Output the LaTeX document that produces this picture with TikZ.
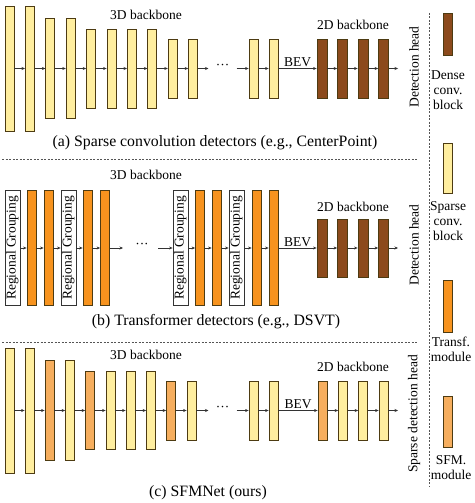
\documentclass[tikz,border=0pt]{standalone}
\usepackage{fontspec}
\setmainfont{Liberation Serif}
\usepackage{graphicx}
\usetikzlibrary{arrows.meta}
\definecolor{ylw}{HTML}{FFEE9F}
\definecolor{brn}{HTML}{8C4A1C}
\definecolor{org}{HTML}{F7931E}
\definecolor{sfmc}{HTML}{F6AE5E}
\definecolor{bord}{HTML}{4D3B12}
\definecolor{arr}{HTML}{333333}
\definecolor{sepc}{HTML}{555555}
\newcommand\lblfont{\fontsize{13.5}{15}\selectfont}
\newcommand\capfont{\fontsize{15.8}{18}\selectfont}
\begin{document}
\begin{tikzpicture}[x=1pt,y=-1pt,
  blk/.style={draw=bord, line width=0.8pt, inner sep=0pt, minimum width=9pt},
  sc/.style={blk, fill=ylw},
  dc/.style={blk, fill=brn, minimum width=10pt},
  tf/.style={blk, fill=org},
  sfm/.style={blk, fill=sfmc},
  rg/.style={draw=arr, line width=0.8pt, fill=white, inner sep=0pt, minimum width=15pt, minimum height=115pt, font=\lblfont},
  conn/.style={-{Stealth[length=3.5pt,width=3pt]}, line width=0.5pt, draw=arr},
  lbl/.style={font=\lblfont, inner sep=0pt},
  lgt/.style={font=\lblfont, inner sep=0pt, align=center},
  captext/.style={font=\capfont, inner sep=0pt},
  dotsnode/.style={font=\lblfont, inner ysep=0pt, inner xsep=9pt},
  sepline/.style={draw=sepc, line width=0.6pt, dash pattern=on 2pt off 1.5pt}]
\useasboundingbox (0,0) rectangle (474,503);

% ---------------- Row (a)
\foreach \i/\x/\h in {1/9.5/125,2/29.9/125,3/50.3/100,4/70.7/100,5/91.1/79,6/111.5/79,7/131.9/79,8/152.3/79,9/172.7/59,10/193.1/59,11/253.5/59,12/273.5/59}
  \node[sc, minimum height=\h pt] (a\i) at (\x,68.5) {};
\foreach \i/\x in {1/322,2/342.5,3/363,4/383.5}
  \node[dc, minimum height=59pt] (ad\i) at (\x,68.5) {};
\node[dotsnode] (adots) at (222.5,66.5) {\textperiodcentered\textperiodcentered\textperiodcentered};
\coordinate (adots-l) at (208.5,68.5);
\coordinate (adots-r) at (236.5,68.5);
\foreach \i [evaluate=\i as \j using int(\i+1)] in {1,...,9}
  \draw[conn] (a\i.east) -- (a\j.west);
\draw[conn] (a11.east) -- (a12.west);
\draw[conn] (a10.east) -- (adots-l);
\draw[conn] (adots-r) -- (a11.west);
\draw[conn] (a12.east) -- node[lbl, above=1.5pt] (abev) {BEV} (ad1.west);
\foreach \i [evaluate=\i as \j using int(\i+1)] in {1,2,3}
  \draw[conn] (ad\i.east) -- (ad\j.west);
\coordinate (aout) at (398,68.5);
\draw[conn] (ad4.east) -- (aout);
\node[lbl] (a3d) at (146,15) {3D backbone};
\node[lbl] (a2d) at (353,25) {2D backbone};
\node[lbl, rotate=90] (ahead) at (414,67) {Detection head};
\node[captext] (acap) at (215,143) {(a) Sparse convolution detectors (e.g., CenterPoint)};
\draw[sepline] (2,159) -- (418,159);

% ---------------- Row (b)
\foreach \i/\x in {1/12.5,2/68.5,3/180.5,4/236.5}
  \node[rg] (r\i) at (\x,248) {\rotatebox{90}{Regional Grouping}};
\foreach \i/\x in {1/31.5,2/48.5,3/87.5,4/105,5/200,6/216.5,7/256.5,8/273.5}
  \node[tf, minimum height=115pt] (o\i) at (\x,248) {};
\foreach \i/\x in {1/322,2/342.5,3/363,4/383.5}
  \node[dc, minimum height=58pt] (bd\i) at (\x,248) {};
\node[dotsnode] (bdots) at (142,246) {\textperiodcentered\textperiodcentered\textperiodcentered};
\coordinate (bdots-l) at (123,248);
\coordinate (bdots-r) at (158,248);
\draw[conn] (r1.east) -- (o1.west);
\draw[conn] (o1.east) -- (o2.west);
\draw[conn] (o2.east) -- (r2.west);
\draw[conn] (r2.east) -- (o3.west);
\draw[conn] (o3.east) -- (o4.west);
\draw[conn] (o4.east) -- (bdots-l);
\draw[conn] (bdots-r) -- (r3.west);
\draw[conn] (r3.east) -- (o5.west);
\draw[conn] (o5.east) -- (o6.west);
\draw[conn] (o6.east) -- (r4.west);
\draw[conn] (r4.east) -- (o7.west);
\draw[conn] (o7.east) -- (o8.west);
\draw[conn] (o8.east) -- node[lbl, above=1.5pt] (bbev) {BEV} (bd1.west);
\foreach \i [evaluate=\i as \j using int(\i+1)] in {1,2,3}
  \draw[conn] (bd\i.east) -- (bd\j.west);
\coordinate (bout) at (398,248);
\draw[conn] (bd4.east) -- (bout);
\node[lbl] (b3d) at (146,175) {3D backbone};
\node[lbl] (b2d) at (353,207) {2D backbone};
\node[lbl, rotate=90] (bhead) at (414,245) {Detection head};
\node[captext] (bcap) at (216,322) {(b) Transformer detectors (e.g., DSVT)};
\draw[sepline] (2,342) -- (418,342);

% ---------------- Row (c)
\foreach \i/\x/\h/\s in {1/9.5/125/sc,2/29.5/125/sc,3/49.5/100/sfm,4/70/100/sc,5/90/78/sfm,6/110.5/78/sc,7/130.5/78/sc,8/151/78/sc,9/171/59/sfm,10/191.5/59/sc,11/253.5/59/sc,12/273.5/59/sc}
  \node[\s, minimum height=\h pt] (c\i) at (\x,410.5) {};
\foreach \i/\x/\s in {1/322.5/sfm,2/343/sc,3/363/sc,4/383.5/sc}
  \node[\s, minimum height=59pt] (cd\i) at (\x,410.5) {};
\node[dotsnode] (cdots) at (222.5,408.5) {\textperiodcentered\textperiodcentered\textperiodcentered};
\coordinate (cdots-l) at (208.5,410.5);
\coordinate (cdots-r) at (236.5,410.5);
\foreach \i [evaluate=\i as \j using int(\i+1)] in {1,...,9}
  \draw[conn] (c\i.east) -- (c\j.west);
\draw[conn] (c11.east) -- (c12.west);
\draw[conn] (c10.east) -- (cdots-l);
\draw[conn] (cdots-r) -- (c11.west);
\draw[conn] (c12.east) -- node[lbl, above=1.5pt] (cbev) {BEV} (cd1.west);
\foreach \i [evaluate=\i as \j using int(\i+1)] in {1,2,3}
  \draw[conn] (cd\i.east) -- (cd\j.west);
\coordinate (cout) at (398,410.5);
\draw[conn] (cd4.east) -- (cout);
\node[lbl] (c3d) at (146,355) {3D backbone};
\node[lbl] (c2d) at (353,367) {2D backbone};
\node[lbl, rotate=90] (chead) at (414,414) {Sparse detection head};
\node[captext] (ccap) at (208,493) {(c) SFMNet (ours)};

% ---------------- Legend
\draw[sepline] (429,13) -- (429,487);
\node[dc, minimum width=9pt, minimum height=42pt] (lg1) at (447.5,34) {};
\node[lgt] (lt1) at (448,90.5) {Dense\\conv.\\block};
\node[sc, minimum height=50pt] (lg2) at (447.5,168) {};
\node[lgt] (lt2) at (448,221.5) {Sparse\\conv.\\block};
\node[tf, minimum height=52pt] (lg3) at (447.5,306) {};
\node[lgt] (lt3) at (451,349.5) {Transf.\\module};
\node[sfm, minimum height=51pt] (lg4) at (447.5,421.5) {};
\node[lgt] (lt4) at (451,467.5) {SFM.\\module};
\end{tikzpicture}
\end{document}
